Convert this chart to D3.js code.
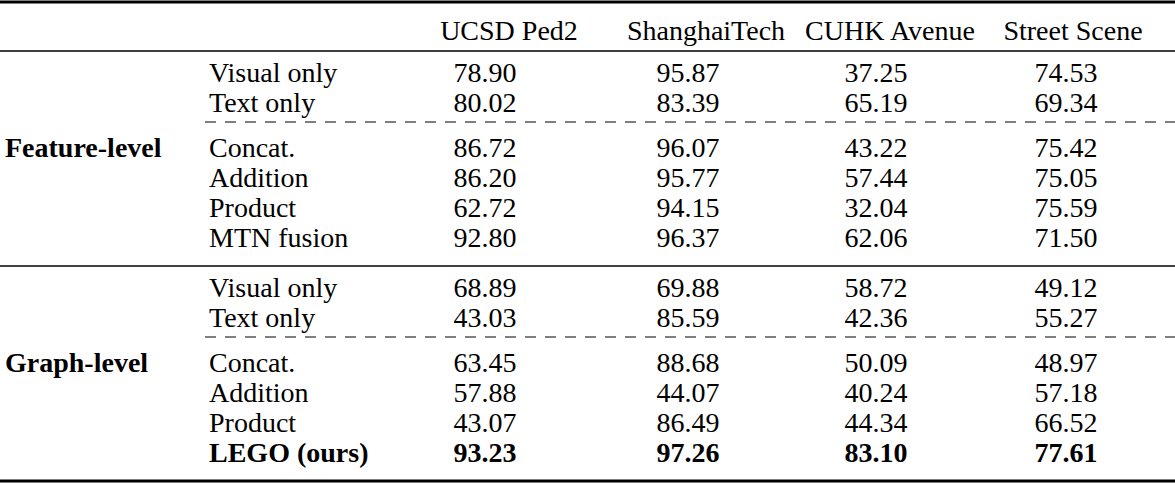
<!DOCTYPE html>
<html><head><meta charset="utf-8">
<script src="https://cdn.jsdelivr.net/npm/d3@7/dist/d3.min.js"></script>
<style>body{margin:0;background:#fff}svg{font-family:"Liberation Serif","Times New Roman","DejaVu Serif",serif}</style>
</head><body><svg id="c" width="1175" height="484"></svg>
<script>
const datasets = ["UCSD Ped2","ShanghaiTech","CUHK Avenue","Street Scene"];
const groups = ["Feature-level","Graph-level"];
const featureMethods = ["Visual only","Text only","Concat.","Addition","Product","MTN fusion"];
const graphMethods = ["Visual only","Text only","Concat.","Addition","Product","LEGO (ours)"];
const featureValues = [
 [78.90,95.87,37.25,74.53],[80.02,83.39,65.19,69.34],[86.72,96.07,43.22,75.42],
 [86.20,95.77,57.44,75.05],[62.72,94.15,32.04,75.59],[92.80,96.37,62.06,71.50]];
const graphValues = [
 [68.89,69.88,58.72,49.12],[43.03,85.59,42.36,55.27],[63.45,88.68,50.09,48.97],
 [57.88,44.07,40.24,57.18],[43.07,86.49,44.34,66.52],[93.23,97.26,83.10,77.61]];

const svg = d3.select("#c");
const fs = 28;
const xh = d3.scaleOrdinal().domain(datasets).range([509,706,890,1073]);
const xn = d3.scaleOrdinal().domain(datasets).range([485,688,876,1066]);
const groupTops = [51, 266];
const rowY = i => 31 + i*30 + (i>=2 ? 15 : 0);
function line(y,x1,w,dash){svg.append("line").attr("x1",x1).attr("x2",1175).attr("y1",y).attr("y2",y)
  .attr("stroke","#000").attr("stroke-width",w).attr("stroke-dasharray",dash||null);}
line(2,0,3); line(51,0,1.5); line(266,0,1.5); line(481,0,3);
svg.selectAll("text.h").data(datasets).join("text").attr("class","h")
  .attr("x",d=>xh(d)).attr("y",40).attr("text-anchor","middle").attr("font-size",fs).text(d=>d);
[[featureMethods,featureValues],[graphMethods,graphValues]].forEach(([m,v],g)=>{
  const top = groupTops[g];
  line(top+71,205,1.2,"11,9");
  svg.append("text").attr("x",5).attr("y",top+rowY(2)).attr("font-size",fs)
    .attr("font-weight","bold").text(groups[g]);
  m.forEach((name,i)=>{
    const bold = g===1 && i===5;
    svg.append("text").attr("x",209).attr("y",top+rowY(i)).attr("font-size",fs)
      .attr("font-weight",bold?"bold":null).text(name);
    v[i].forEach((val,j)=>{
      svg.append("text").attr("x",xn(datasets[j])).attr("y",top+rowY(i)).attr("text-anchor","middle")
        .attr("font-size",fs).attr("font-weight",bold?"bold":null).text(val.toFixed(2));
    });
  });
});
</script></body></html>
